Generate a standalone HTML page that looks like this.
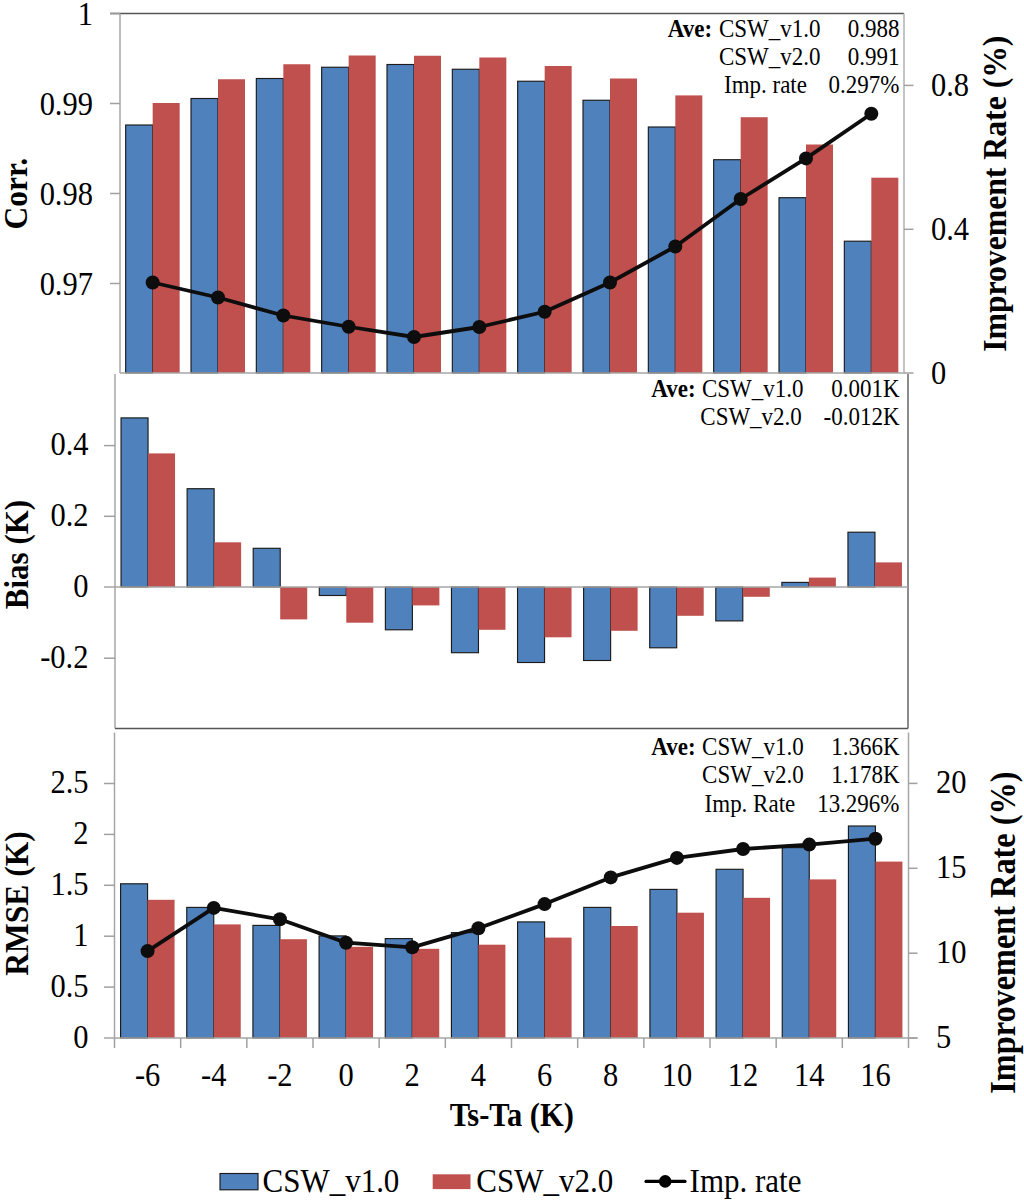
<!DOCTYPE html>
<html><head><meta charset="utf-8"><title>chart</title>
<style>html,body{margin:0;padding:0;background:#fff;width:1024px;height:1202px;overflow:hidden}</style>
</head><body>
<svg width="1024" height="1202" viewBox="0 0 1024 1202" style="font-family:'Liberation Serif',serif;display:block">
<rect width="1024" height="1202" fill="#fff"/>
<rect x="125.67" y="125.00" width="27.0" height="248.00" fill="#4f81bd" stroke="#1b1b1b" stroke-width="1.15"/>
<rect x="152.67" y="103.00" width="27.0" height="270.00" fill="#c0504d"/>
<rect x="191.00" y="98.50" width="27.0" height="274.50" fill="#4f81bd" stroke="#1b1b1b" stroke-width="1.15"/>
<rect x="218.00" y="79.25" width="27.0" height="293.75" fill="#c0504d"/>
<rect x="256.33" y="78.50" width="27.0" height="294.50" fill="#4f81bd" stroke="#1b1b1b" stroke-width="1.15"/>
<rect x="283.33" y="64.25" width="27.0" height="308.75" fill="#c0504d"/>
<rect x="321.67" y="67.25" width="27.0" height="305.75" fill="#4f81bd" stroke="#1b1b1b" stroke-width="1.15"/>
<rect x="348.67" y="55.50" width="27.0" height="317.50" fill="#c0504d"/>
<rect x="387.00" y="64.50" width="27.0" height="308.50" fill="#4f81bd" stroke="#1b1b1b" stroke-width="1.15"/>
<rect x="414.00" y="55.75" width="27.0" height="317.25" fill="#c0504d"/>
<rect x="452.33" y="69.25" width="27.0" height="303.75" fill="#4f81bd" stroke="#1b1b1b" stroke-width="1.15"/>
<rect x="479.33" y="57.50" width="27.0" height="315.50" fill="#c0504d"/>
<rect x="517.67" y="81.25" width="27.0" height="291.75" fill="#4f81bd" stroke="#1b1b1b" stroke-width="1.15"/>
<rect x="544.67" y="66.00" width="27.0" height="307.00" fill="#c0504d"/>
<rect x="583.00" y="100.25" width="27.0" height="272.75" fill="#4f81bd" stroke="#1b1b1b" stroke-width="1.15"/>
<rect x="610.00" y="78.50" width="27.0" height="294.50" fill="#c0504d"/>
<rect x="648.33" y="127.00" width="27.0" height="246.00" fill="#4f81bd" stroke="#1b1b1b" stroke-width="1.15"/>
<rect x="675.33" y="95.40" width="27.0" height="277.60" fill="#c0504d"/>
<rect x="713.67" y="159.70" width="27.0" height="213.30" fill="#4f81bd" stroke="#1b1b1b" stroke-width="1.15"/>
<rect x="740.67" y="117.20" width="27.0" height="255.80" fill="#c0504d"/>
<rect x="779.00" y="197.70" width="27.0" height="175.30" fill="#4f81bd" stroke="#1b1b1b" stroke-width="1.15"/>
<rect x="806.00" y="144.50" width="27.0" height="228.50" fill="#c0504d"/>
<rect x="844.33" y="241.20" width="27.0" height="131.80" fill="#4f81bd" stroke="#1b1b1b" stroke-width="1.15"/>
<rect x="871.33" y="177.70" width="27.0" height="195.30" fill="#c0504d"/>
<g fill="none" stroke-width="1.5">
<line x1="110" y1="13.5" x2="904.0" y2="13.5" stroke="#555"/>
<line x1="110" y1="13.5" x2="120" y2="13.5" stroke="#999"/>
<line x1="120.0" y1="13.5" x2="120.0" y2="373.0" stroke="#a6a6a6"/>
<line x1="120.0" y1="373.0" x2="904.0" y2="373.0" stroke="#a6a6a6"/>
<line x1="904.0" y1="13.5" x2="904.0" y2="373.0" stroke="#b0b0b0"/>
<line x1="110" y1="103.5" x2="120" y2="103.5" stroke="#a0a0a0"/>
<line x1="110" y1="193.5" x2="120" y2="193.5" stroke="#a0a0a0"/>
<line x1="110" y1="283.5" x2="120" y2="283.5" stroke="#a0a0a0"/>
<line x1="904.0" y1="373.0" x2="913.5" y2="373.0" stroke="#a0a0a0"/>
<line x1="904.0" y1="229.3" x2="913.5" y2="229.3" stroke="#a0a0a0"/>
<line x1="904.0" y1="85.4" x2="913.5" y2="85.4" stroke="#a0a0a0"/>
</g>
<polyline points="152.67,282.50 218.00,297.50 283.33,315.50 348.67,326.75 414.00,337.00 479.33,327.00 544.67,311.75 610.00,282.50 675.33,246.50 740.67,199.00 806.00,158.40 871.33,113.70" fill="none" stroke="#0d0d0d" stroke-width="3.8" stroke-linejoin="round"/>
<circle cx="152.67" cy="282.5" r="7" fill="#0d0d0d"/>
<circle cx="218.00" cy="297.5" r="7" fill="#0d0d0d"/>
<circle cx="283.33" cy="315.5" r="7" fill="#0d0d0d"/>
<circle cx="348.67" cy="326.75" r="7" fill="#0d0d0d"/>
<circle cx="414.00" cy="337" r="7" fill="#0d0d0d"/>
<circle cx="479.33" cy="327" r="7" fill="#0d0d0d"/>
<circle cx="544.67" cy="311.75" r="7" fill="#0d0d0d"/>
<circle cx="610.00" cy="282.5" r="7" fill="#0d0d0d"/>
<circle cx="675.33" cy="246.5" r="7" fill="#0d0d0d"/>
<circle cx="740.67" cy="199" r="7" fill="#0d0d0d"/>
<circle cx="806.00" cy="158.4" r="7" fill="#0d0d0d"/>
<circle cx="871.33" cy="113.7" r="7" fill="#0d0d0d"/>
<rect x="121.04" y="417.90" width="27.0" height="169.10" fill="#4f81bd" stroke="#1b1b1b" stroke-width="1.15"/>
<rect x="148.04" y="453.40" width="27.0" height="133.60" fill="#c0504d"/>
<rect x="187.12" y="488.70" width="27.0" height="98.30" fill="#4f81bd" stroke="#1b1b1b" stroke-width="1.15"/>
<rect x="214.12" y="542.30" width="27.0" height="44.70" fill="#c0504d"/>
<rect x="253.21" y="548.30" width="27.0" height="38.70" fill="#4f81bd" stroke="#1b1b1b" stroke-width="1.15"/>
<rect x="280.21" y="587.00" width="27.0" height="32.40" fill="#c0504d"/>
<rect x="319.29" y="587.00" width="27.0" height="8.50" fill="#4f81bd" stroke="#1b1b1b" stroke-width="1.15"/>
<rect x="346.29" y="587.00" width="27.0" height="35.70" fill="#c0504d"/>
<rect x="385.38" y="587.00" width="27.0" height="42.80" fill="#4f81bd" stroke="#1b1b1b" stroke-width="1.15"/>
<rect x="412.38" y="587.00" width="27.0" height="18.40" fill="#c0504d"/>
<rect x="451.46" y="587.00" width="27.0" height="65.70" fill="#4f81bd" stroke="#1b1b1b" stroke-width="1.15"/>
<rect x="478.46" y="587.00" width="27.0" height="42.80" fill="#c0504d"/>
<rect x="517.54" y="587.00" width="27.0" height="75.50" fill="#4f81bd" stroke="#1b1b1b" stroke-width="1.15"/>
<rect x="544.54" y="587.00" width="27.0" height="50.30" fill="#c0504d"/>
<rect x="583.62" y="587.00" width="27.0" height="73.50" fill="#4f81bd" stroke="#1b1b1b" stroke-width="1.15"/>
<rect x="610.62" y="587.00" width="27.0" height="43.80" fill="#c0504d"/>
<rect x="649.71" y="587.00" width="27.0" height="60.80" fill="#4f81bd" stroke="#1b1b1b" stroke-width="1.15"/>
<rect x="676.71" y="587.00" width="27.0" height="28.80" fill="#c0504d"/>
<rect x="715.79" y="587.00" width="27.0" height="33.90" fill="#4f81bd" stroke="#1b1b1b" stroke-width="1.15"/>
<rect x="742.79" y="587.00" width="27.0" height="9.80" fill="#c0504d"/>
<rect x="781.88" y="582.40" width="27.0" height="4.60" fill="#4f81bd" stroke="#1b1b1b" stroke-width="1.15"/>
<rect x="808.88" y="577.60" width="27.0" height="9.40" fill="#c0504d"/>
<rect x="847.96" y="532.20" width="27.0" height="54.80" fill="#4f81bd" stroke="#1b1b1b" stroke-width="1.15"/>
<rect x="874.96" y="562.40" width="27.0" height="24.60" fill="#c0504d"/>
<g fill="none" stroke-width="1.5">
<line x1="115.0" y1="374.0" x2="115.0" y2="728.6" stroke="#a6a6a6"/>
<line x1="908.0" y1="374.0" x2="908.0" y2="728.6" stroke="#666"/>
<line x1="104" y1="587.0" x2="908.0" y2="587.0" stroke="#a6a6a6"/>
<line x1="115.0" y1="728.6" x2="908.0" y2="728.6" stroke="#555"/>
<line x1="104" y1="445.6" x2="115.0" y2="445.6" stroke="#a0a0a0"/>
<line x1="104" y1="516.3" x2="115.0" y2="516.3" stroke="#a0a0a0"/>
<line x1="104" y1="658.2" x2="115.0" y2="658.2" stroke="#a0a0a0"/>
</g>
<rect x="120.58" y="883.80" width="27.0" height="154.20" fill="#4f81bd" stroke="#1b1b1b" stroke-width="1.15"/>
<rect x="147.58" y="899.80" width="27.0" height="138.20" fill="#c0504d"/>
<rect x="186.75" y="907.40" width="27.0" height="130.60" fill="#4f81bd" stroke="#1b1b1b" stroke-width="1.15"/>
<rect x="213.75" y="924.40" width="27.0" height="113.60" fill="#c0504d"/>
<rect x="252.92" y="925.40" width="27.0" height="112.60" fill="#4f81bd" stroke="#1b1b1b" stroke-width="1.15"/>
<rect x="279.92" y="939.20" width="27.0" height="98.80" fill="#c0504d"/>
<rect x="319.08" y="935.90" width="27.0" height="102.10" fill="#4f81bd" stroke="#1b1b1b" stroke-width="1.15"/>
<rect x="346.08" y="946.80" width="27.0" height="91.20" fill="#c0504d"/>
<rect x="385.25" y="938.60" width="27.0" height="99.40" fill="#4f81bd" stroke="#1b1b1b" stroke-width="1.15"/>
<rect x="412.25" y="948.80" width="27.0" height="89.20" fill="#c0504d"/>
<rect x="451.42" y="932.60" width="27.0" height="105.40" fill="#4f81bd" stroke="#1b1b1b" stroke-width="1.15"/>
<rect x="478.42" y="944.70" width="27.0" height="93.30" fill="#c0504d"/>
<rect x="517.58" y="921.90" width="27.0" height="116.10" fill="#4f81bd" stroke="#1b1b1b" stroke-width="1.15"/>
<rect x="544.58" y="937.60" width="27.0" height="100.40" fill="#c0504d"/>
<rect x="583.75" y="907.40" width="27.0" height="130.60" fill="#4f81bd" stroke="#1b1b1b" stroke-width="1.15"/>
<rect x="610.75" y="926.00" width="27.0" height="112.00" fill="#c0504d"/>
<rect x="649.92" y="889.40" width="27.0" height="148.60" fill="#4f81bd" stroke="#1b1b1b" stroke-width="1.15"/>
<rect x="676.92" y="912.70" width="27.0" height="125.30" fill="#c0504d"/>
<rect x="716.08" y="869.30" width="27.0" height="168.70" fill="#4f81bd" stroke="#1b1b1b" stroke-width="1.15"/>
<rect x="743.08" y="897.80" width="27.0" height="140.20" fill="#c0504d"/>
<rect x="782.25" y="847.60" width="27.0" height="190.40" fill="#4f81bd" stroke="#1b1b1b" stroke-width="1.15"/>
<rect x="809.25" y="879.40" width="27.0" height="158.60" fill="#c0504d"/>
<rect x="848.42" y="826.00" width="27.0" height="212.00" fill="#4f81bd" stroke="#1b1b1b" stroke-width="1.15"/>
<rect x="875.42" y="861.60" width="27.0" height="176.40" fill="#c0504d"/>
<g fill="none" stroke-width="1.5">
<line x1="114.5" y1="732.4" x2="114.5" y2="1038.0" stroke="#a6a6a6"/>
<line x1="908.5" y1="732.4" x2="908.5" y2="1038.0" stroke="#a6a6a6"/>
<line x1="104" y1="1038.0" x2="917.5" y2="1038.0" stroke="#a6a6a6"/>
<line x1="104" y1="987.10" x2="114.5" y2="987.10" stroke="#a0a0a0"/>
<line x1="104" y1="936.20" x2="114.5" y2="936.20" stroke="#a0a0a0"/>
<line x1="104" y1="885.30" x2="114.5" y2="885.30" stroke="#a0a0a0"/>
<line x1="104" y1="834.40" x2="114.5" y2="834.40" stroke="#a0a0a0"/>
<line x1="104" y1="783.50" x2="114.5" y2="783.50" stroke="#a0a0a0"/>
<line x1="908.5" y1="1038.10" x2="917.5" y2="1038.10" stroke="#a0a0a0"/>
<line x1="908.5" y1="953.20" x2="917.5" y2="953.20" stroke="#a0a0a0"/>
<line x1="908.5" y1="868.30" x2="917.5" y2="868.30" stroke="#a0a0a0"/>
<line x1="908.5" y1="783.40" x2="917.5" y2="783.40" stroke="#a0a0a0"/>
<line x1="114.50" y1="1038.0" x2="114.50" y2="1048.0" stroke="#a0a0a0"/>
<line x1="180.67" y1="1038.0" x2="180.67" y2="1048.0" stroke="#a0a0a0"/>
<line x1="246.83" y1="1038.0" x2="246.83" y2="1048.0" stroke="#a0a0a0"/>
<line x1="313.00" y1="1038.0" x2="313.00" y2="1048.0" stroke="#a0a0a0"/>
<line x1="379.17" y1="1038.0" x2="379.17" y2="1048.0" stroke="#a0a0a0"/>
<line x1="445.33" y1="1038.0" x2="445.33" y2="1048.0" stroke="#a0a0a0"/>
<line x1="511.50" y1="1038.0" x2="511.50" y2="1048.0" stroke="#a0a0a0"/>
<line x1="577.67" y1="1038.0" x2="577.67" y2="1048.0" stroke="#a0a0a0"/>
<line x1="643.83" y1="1038.0" x2="643.83" y2="1048.0" stroke="#a0a0a0"/>
<line x1="710.00" y1="1038.0" x2="710.00" y2="1048.0" stroke="#a0a0a0"/>
<line x1="776.17" y1="1038.0" x2="776.17" y2="1048.0" stroke="#a0a0a0"/>
<line x1="842.33" y1="1038.0" x2="842.33" y2="1048.0" stroke="#a0a0a0"/>
<line x1="908.50" y1="1038.0" x2="908.50" y2="1048.0" stroke="#a0a0a0"/>
</g>
<polyline points="147.58,951.10 213.75,907.90 279.92,919.30 346.08,942.70 412.25,947.30 478.42,928.20 544.58,904.10 610.75,877.40 676.92,857.90 743.08,849.00 809.25,844.60 875.42,838.70" fill="none" stroke="#0d0d0d" stroke-width="3.8" stroke-linejoin="round"/>
<circle cx="147.58" cy="951.1" r="7" fill="#0d0d0d"/>
<circle cx="213.75" cy="907.9" r="7" fill="#0d0d0d"/>
<circle cx="279.92" cy="919.3" r="7" fill="#0d0d0d"/>
<circle cx="346.08" cy="942.7" r="7" fill="#0d0d0d"/>
<circle cx="412.25" cy="947.3" r="7" fill="#0d0d0d"/>
<circle cx="478.42" cy="928.2" r="7" fill="#0d0d0d"/>
<circle cx="544.58" cy="904.1" r="7" fill="#0d0d0d"/>
<circle cx="610.75" cy="877.4" r="7" fill="#0d0d0d"/>
<circle cx="676.92" cy="857.9" r="7" fill="#0d0d0d"/>
<circle cx="743.08" cy="849" r="7" fill="#0d0d0d"/>
<circle cx="809.25" cy="844.6" r="7" fill="#0d0d0d"/>
<circle cx="875.42" cy="838.7" r="7" fill="#0d0d0d"/>
<g fill="#000">
<text transform="translate(93,24.7) scale(1,1.08)" font-size="30.5" text-anchor="end" >1</text>
<text transform="translate(93,114.7) scale(1,1.08)" font-size="30.5" text-anchor="end" >0.99</text>
<text transform="translate(93,204.7) scale(1,1.08)" font-size="30.5" text-anchor="end" >0.98</text>
<text transform="translate(93,294.7) scale(1,1.08)" font-size="30.5" text-anchor="end" >0.97</text>
<text transform="translate(931,383.8) scale(1,1.08)" font-size="30.5" text-anchor="start" >0</text>
<text transform="translate(931,240.1) scale(1,1.08)" font-size="30.5" text-anchor="start" >0.4</text>
<text transform="translate(931,96.2) scale(1,1.08)" font-size="30.5" text-anchor="start" >0.8</text>
<text transform="translate(88.5,455.4) scale(1,1.08)" font-size="30.5" text-anchor="end" >0.4</text>
<text transform="translate(88.5,526.1) scale(1,1.08)" font-size="30.5" text-anchor="end" >0.2</text>
<text transform="translate(88.5,596.8) scale(1,1.08)" font-size="30.5" text-anchor="end" >0</text>
<text transform="translate(88.5,668.0) scale(1,1.08)" font-size="30.5" text-anchor="end" >-0.2</text>
<text transform="translate(88.5,1047.8) scale(1,1.08)" font-size="30.5" text-anchor="end" >0</text>
<text transform="translate(88.5,996.9) scale(1,1.08)" font-size="30.5" text-anchor="end" >0.5</text>
<text transform="translate(88.5,946.0) scale(1,1.08)" font-size="30.5" text-anchor="end" >1</text>
<text transform="translate(88.5,895.1) scale(1,1.08)" font-size="30.5" text-anchor="end" >1.5</text>
<text transform="translate(88.5,844.2) scale(1,1.08)" font-size="30.5" text-anchor="end" >2</text>
<text transform="translate(88.5,793.3) scale(1,1.08)" font-size="30.5" text-anchor="end" >2.5</text>
<text transform="translate(936,1047.9) scale(1,1.08)" font-size="30.5" text-anchor="start" >5</text>
<text transform="translate(936,963.0) scale(1,1.08)" font-size="30.5" text-anchor="start" >10</text>
<text transform="translate(936,878.1) scale(1,1.08)" font-size="30.5" text-anchor="start" >15</text>
<text transform="translate(936,793.2) scale(1,1.08)" font-size="30.5" text-anchor="start" >20</text>
<text transform="translate(147.58,1085.5) scale(1,1.08)" font-size="30.5" text-anchor="middle" >-6</text>
<text transform="translate(213.75,1085.5) scale(1,1.08)" font-size="30.5" text-anchor="middle" >-4</text>
<text transform="translate(279.92,1085.5) scale(1,1.08)" font-size="30.5" text-anchor="middle" >-2</text>
<text transform="translate(346.08,1085.5) scale(1,1.08)" font-size="30.5" text-anchor="middle" >0</text>
<text transform="translate(412.25,1085.5) scale(1,1.08)" font-size="30.5" text-anchor="middle" >2</text>
<text transform="translate(478.42,1085.5) scale(1,1.08)" font-size="30.5" text-anchor="middle" >4</text>
<text transform="translate(544.58,1085.5) scale(1,1.08)" font-size="30.5" text-anchor="middle" >6</text>
<text transform="translate(610.75,1085.5) scale(1,1.08)" font-size="30.5" text-anchor="middle" >8</text>
<text transform="translate(676.92,1085.5) scale(1,1.08)" font-size="30.5" text-anchor="middle" >10</text>
<text transform="translate(743.08,1085.5) scale(1,1.08)" font-size="30.5" text-anchor="middle" >12</text>
<text transform="translate(809.25,1085.5) scale(1,1.08)" font-size="30.5" text-anchor="middle" >14</text>
<text transform="translate(875.42,1085.5) scale(1,1.08)" font-size="30.5" text-anchor="middle" >16</text>
<text transform="translate(511.8,1126.2) scale(1,1.08)" font-size="30.5" text-anchor="middle" font-weight="bold" >Ts-Ta (K)</text>
<text transform="translate(27,193.7) rotate(-90) scale(1,1.08)" x="0" y="0" font-size="31.5" text-anchor="middle" font-weight="bold">Corr.</text>
<text transform="translate(28,554.5) rotate(-90) scale(1,1.08)" x="0" y="0" font-size="31" text-anchor="middle" font-weight="bold">Bias (K)</text>
<text transform="translate(28,903.5) rotate(-90) scale(1,1.08)" x="0" y="0" font-size="31.5" text-anchor="middle" font-weight="bold">RMSE (K)</text>
<text transform="translate(1005.5,193.7) rotate(-90) scale(1,1.08)" x="0" y="0" font-size="31.7" text-anchor="middle" font-weight="bold">Improvement Rate (%)</text>
<text transform="translate(1014.8,932.6) rotate(-90) scale(1,1.08)" x="0" y="0" font-size="32.3" text-anchor="middle" font-weight="bold">Improvement Rate (%)</text>
<text transform="translate(667.8,36.7) scale(1,1.08)" font-size="23" text-anchor="start" ><tspan font-weight='bold'>Ave:</tspan></text>
<text transform="translate(719,36.7) scale(1,1.08)" font-size="23" text-anchor="start" >CSW_v1.0</text>
<text transform="translate(899.5,36.7) scale(1,1.08)" font-size="23" text-anchor="end" >0.988</text>
<text transform="translate(719,64.6) scale(1,1.08)" font-size="23" text-anchor="start" >CSW_v2.0</text>
<text transform="translate(899.5,64.6) scale(1,1.08)" font-size="23" text-anchor="end" >0.991</text>
<text transform="translate(724,93.3) scale(1,1.08)" font-size="23" text-anchor="start" >Imp. rate</text>
<text transform="translate(899.5,93.3) scale(1,1.08)" font-size="23" text-anchor="end" >0.297%</text>
<text transform="translate(651.3,396.7) scale(1,1.08)" font-size="23" text-anchor="start" ><tspan font-weight='bold'>Ave:</tspan></text>
<text transform="translate(702,396.7) scale(1,1.08)" font-size="23" text-anchor="start" >CSW_v1.0</text>
<text transform="translate(899.5,396.7) scale(1,1.08)" font-size="23" text-anchor="end" >0.001K</text>
<text transform="translate(700.3,425.4) scale(1,1.08)" font-size="23" text-anchor="start" >CSW_v2.0</text>
<text transform="translate(899.5,425.4) scale(1,1.08)" font-size="23" text-anchor="end" >-0.012K</text>
<text transform="translate(651.3,754.6) scale(1,1.08)" font-size="23" text-anchor="start" ><tspan font-weight='bold'>Ave:</tspan></text>
<text transform="translate(702.1,754.6) scale(1,1.08)" font-size="23" text-anchor="start" >CSW_v1.0</text>
<text transform="translate(899.5,754.6) scale(1,1.08)" font-size="23" text-anchor="end" >1.366K</text>
<text transform="translate(702.1,782.8) scale(1,1.08)" font-size="23" text-anchor="start" >CSW_v2.0</text>
<text transform="translate(899.5,782.8) scale(1,1.08)" font-size="23" text-anchor="end" >1.178K</text>
<text transform="translate(704.6,811.8) scale(1,1.08)" font-size="23" text-anchor="start" >Imp. Rate</text>
<text transform="translate(899.5,811.8) scale(1,1.08)" font-size="23" text-anchor="end" >13.296%</text>
<rect x="220" y="1173.5" width="38" height="16.3" fill="#4f81bd" stroke="#1b1b1b" stroke-width="1.15"/>
<text transform="translate(262.5,1192.3) scale(1,1.08)" font-size="31" text-anchor="start" >CSW_v1.0</text>
<rect x="432.7" y="1174.3" width="37.8" height="14.8" fill="#c0504d"/>
<text transform="translate(476.3,1192.3) scale(1,1.08)" font-size="31" text-anchor="start" >CSW_v2.0</text>
<line x1="646" y1="1181.4" x2="685" y2="1181.4" stroke="#000" stroke-width="3.2" stroke-linecap="round"/>
<circle cx="665.2" cy="1181.4" r="6.3" fill="#000"/>
<text transform="translate(689.6,1192.3) scale(1,1.08)" font-size="31" text-anchor="start" >Imp. rate</text>
</g>
</svg>
</body></html>
